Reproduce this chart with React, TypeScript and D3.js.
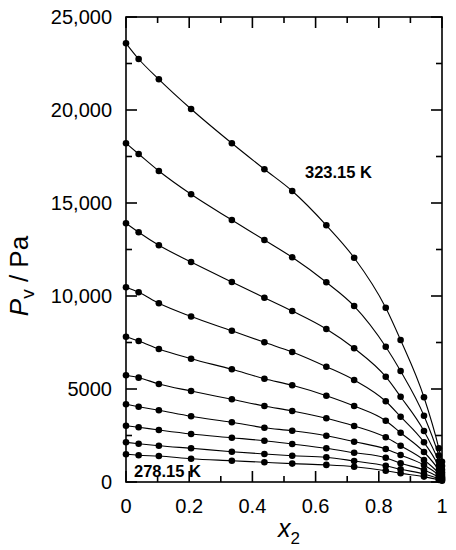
import React from "react";
import * as d3 from "d3";

const xValues = [0, 0.04, 0.104, 0.206, 0.335, 0.438, 0.526, 0.634, 0.722, 0.822, 0.869, 0.943, 0.99, 1.0];

const p32315 = [23586, 22742, 21651, 20054, 18210, 16812, 15645, 13801, 12059, 9371, 7634, 4554, 1812, 1090];
const p31815 = [18210, 17634, 16720, 15468, 14086, 13011, 12081, 10737, 9462, 7274, 5968, 3565, 1426, 856];
const p31315 = [13909, 13425, 12726, 11828, 10753, 9909, 9194, 8226, 7188, 5661, 4586, 2742, 1097, 658];
const p30815 = [10468, 10199, 9608, 8900, 8130, 7511, 6990, 6199, 5484, 4340, 3511, 2134, 854, 512];
const p30315 = [7812, 7581, 7151, 6629, 6059, 5554, 5199, 4640, 4086, 3296, 2650, 1613, 645, 387];
const p29815 = [5736, 5609, 5269, 4892, 4446, 4086, 3817, 3425, 3011, 2403, 1952, 1183, 473, 284];
const p29315 = [4177, 4048, 3855, 3532, 3210, 2919, 2758, 2489, 2167, 1774, 1452, 914, 366, 220];
const p28815 = [3027, 2941, 2796, 2581, 2382, 2220, 2043, 1812, 1575, 1306, 1005, 645, 258, 155];
const p28315 = [2134, 2059, 1952, 1812, 1629, 1505, 1414, 1330, 1129, 876, 683, 430, 172, 103];
const p27815 = [1489, 1435, 1398, 1253, 1145, 1059, 990, 920, 823, 608, 468, 290, 116, 70];

const seriesList = [p32315, p31815, p31315, p30815, p30315, p29815, p29315, p28815, p28315, p27815];

const yMajorTicks = [0, 5000, 10000, 15000, 20000, 25000];
const yTickLabels = ["0", "5000", "10,000", "15,000", "20,000", "25,000"];
const yMinorTicks = [2500, 7500, 12500, 17500, 22500];
const xMajorTicks = [0, 0.2, 0.4, 0.6, 0.8, 1];
const xTickLabels = ["0", "0.2", "0.4", "0.6", "0.8", "1"];
const xMinorTicks = [0.1, 0.3, 0.5, 0.7, 0.9];

const topLabel = "323.15 K";
const bottomLabel = "278.15 K";

export default function App() {
  const left = 126, right = 442, top = 17, bottom = 482;
  const x = d3.scaleLinear().domain([0, 1]).range([left, right]);
  const y = d3.scaleLinear().domain([0, 25000]).range([bottom, top]);
  const line = d3
    .line<[number, number]>()
    .x((d) => x(d[0]))
    .y((d) => y(d[1]))
    .curve(d3.curveMonotoneX);
  const font = "'Liberation Sans', Arial, sans-serif";
  const major = 11, minor = 6;

  return (
    <svg width={456} height={550} style={{ position: "absolute", left: 0, top: 0, background: "#fff" }}>
      <g stroke="#000" strokeWidth={1.1}>
        {seriesList.map((s, i) => (
          <path key={i} d={line(xValues.map((xv, j) => [xv, s[j]]) as [number, number][]) || ""} fill="none" />
        ))}
      </g>
      <g fill="#000">
        {seriesList.map((s, i) =>
          s.map((v, j) => <circle key={i + "-" + j} cx={x(xValues[j])} cy={y(v)} r={3.3} />)
        )}
      </g>
      <g stroke="#000" strokeWidth={1.6}>
        <rect x={left} y={top} width={right - left} height={bottom - top} fill="none" />
        {yMajorTicks.map((t) => (
          <g key={"ym" + t}>
            <line x1={left} x2={left + major} y1={y(t)} y2={y(t)} />
            <line x1={right} x2={right - major} y1={y(t)} y2={y(t)} />
          </g>
        ))}
        {yMinorTicks.map((t) => (
          <g key={"yn" + t}>
            <line x1={left} x2={left + minor} y1={y(t)} y2={y(t)} />
            <line x1={right} x2={right - minor} y1={y(t)} y2={y(t)} />
          </g>
        ))}
        {xMajorTicks.map((t) => (
          <g key={"xm" + t}>
            <line x1={x(t)} x2={x(t)} y1={bottom} y2={bottom - major} />
            <line x1={x(t)} x2={x(t)} y1={top} y2={top + major} />
          </g>
        ))}
        {xMinorTicks.map((t) => (
          <g key={"xn" + t}>
            <line x1={x(t)} x2={x(t)} y1={bottom} y2={bottom - minor} />
            <line x1={x(t)} x2={x(t)} y1={top} y2={top + minor} />
          </g>
        ))}
      </g>
      <g fontFamily={font} fontSize={20} fill="#000">
        {yMajorTicks.map((t, i) => (
          <text key={"yl" + t} x={112} y={y(t) + 7} textAnchor="end">
            {yTickLabels[i]}
          </text>
        ))}
        {xMajorTicks.map((t, i) => (
          <text key={"xl" + t} x={x(t)} y={513} textAnchor="middle">
            {xTickLabels[i]}
          </text>
        ))}
      </g>
      <text x={278} y={537} fontFamily={font} fontSize={25} fontStyle="italic">
        x
        <tspan fontSize={17} fontStyle="normal" dy={7}>2</tspan>
      </text>
      <text
        transform="translate(28,276) rotate(-90)"
        textAnchor="middle"
        fontFamily={font}
        fontSize={26}
      >
        <tspan fontStyle="italic">P</tspan>
        <tspan fontSize={19} dy={6}>v</tspan>
        <tspan dy={-6}> / Pa</tspan>
      </text>
      <text x={305} y={178} fontFamily={font} fontSize={16.5} fontWeight="bold">
        {topLabel}
      </text>
      <text x={134} y={477} fontFamily={font} fontSize={16.5} fontWeight="bold">
        {bottomLabel}
      </text>
    </svg>
  );
}
